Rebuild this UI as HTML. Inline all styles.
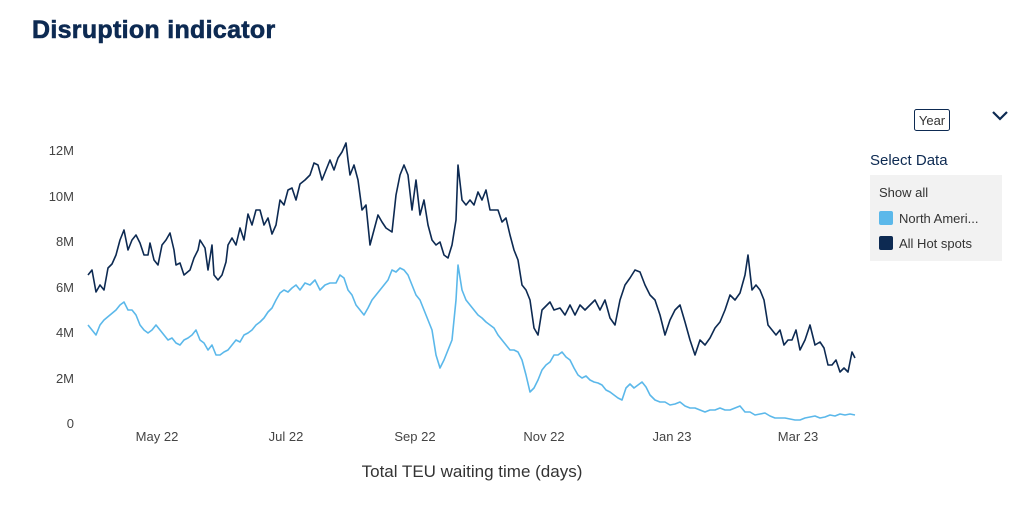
<!DOCTYPE html>
<html><head><meta charset="utf-8"><style>
body{margin:0;background:#fff;width:1017px;height:500px;overflow:hidden;font-family:"Liberation Sans",sans-serif;}
</style></head><body>
<svg width="1017" height="500" xmlns="http://www.w3.org/2000/svg" font-family="Liberation Sans, sans-serif">
<text x="32" y="38" font-size="25" font-weight="bold" fill="#0d2a52" stroke="#0d2a52" stroke-width="0.6" letter-spacing="0.3">Disruption indicator</text>
<g font-size="13" fill="#444" text-anchor="end">
<text x="74" y="155">12M</text><text x="74" y="201">10M</text><text x="74" y="246">8M</text>
<text x="74" y="292">6M</text><text x="74" y="337">4M</text><text x="74" y="383">2M</text><text x="74" y="428">0</text>
</g>
<g font-size="13" fill="#444" text-anchor="middle">
<text x="157" y="441">May 22</text><text x="286" y="441">Jul 22</text><text x="415" y="441">Sep 22</text>
<text x="544" y="441">Nov 22</text><text x="672" y="441">Jan 23</text><text x="798" y="441">Mar 23</text>
</g>
<text x="472" y="477" font-size="17" fill="#333" text-anchor="middle">Total TEU waiting time (days)</text>
<polyline fill="none" stroke="#0d2a52" stroke-width="1.6" stroke-linejoin="round" points="88,275 92,270 96,292 100,285 104,290 108,268 112,264 116,255 120,240 124,230 128,250 132,240 136,235 140,243 144,255 148,255 150,243 154,260 158,265 162,245 166,240 170,233 174,250 176,265 180,263 184,275 190,270 194,258 198,250 200,240 205,248 208,270 212,245 214,275 218,280 222,275 226,262 228,245 232,238 236,245 240,228 244,240 248,214 252,225 256,210 260,210 264,225 268,218 272,234 276,225 280,200 284,205 288,190 292,188 296,200 300,184 305,180 310,175 314,163 318,165 322,180 326,170 330,160 334,170 338,158 342,152 346,143 348,160 350,175 354,165 358,180 362,210 366,205 370,245 374,230 378,215 382,222 386,228 392,232 396,195 400,175 404,165 408,175 412,210 416,180 420,215 424,200 428,225 432,240 436,245 440,242 444,255 448,258 452,245 456,220 458,165 462,200 466,205 470,200 474,205 478,192 482,200 486,190 490,210 494,210 498,210 502,222 506,218 510,235 514,250 518,260 522,285 526,290 530,300 534,328 538,335 542,310 546,306 550,302 554,310 560,308 565,315 570,305 575,315 580,305 585,310 590,305 595,300 600,310 605,300 610,318 615,325 620,300 625,285 630,278 635,270 640,272 645,285 650,295 655,300 660,315 665,335 670,320 675,310 680,305 685,322 690,340 695,355 700,340 705,345 710,338 715,328 720,322 725,310 730,295 735,300 740,293 745,275 748,255 752,290 756,285 760,290 764,300 768,325 772,330 776,335 780,330 784,345 788,340 792,340 796,330 800,350 805,340 810,325 815,345 820,342 824,348 828,365 832,365 836,360 840,372 844,368 848,372 852,352 855,358"/>
<polyline fill="none" stroke="#5bb8ea" stroke-width="1.6" stroke-linejoin="round" points="88,325 92,330 96,335 100,325 104,320 110,315 116,310 120,305 124,302 128,310 132,310 136,315 140,325 144,330 148,333 152,330 156,325 160,330 164,335 168,340 172,338 176,343 180,345 184,340 188,338 192,335 196,330 200,340 204,343 208,350 212,345 216,355 220,355 224,352 228,350 232,345 236,340 240,342 244,335 248,333 252,330 256,325 260,322 264,318 268,312 272,308 276,300 280,293 284,290 288,292 292,288 296,285 300,290 305,283 310,285 315,280 320,290 325,285 330,283 336,283 340,275 344,278 348,290 352,295 356,305 360,310 364,315 368,308 372,300 376,295 380,290 384,285 388,280 392,270 396,272 400,268 404,270 408,275 412,285 416,295 420,300 424,310 428,320 432,330 436,355 440,368 444,360 448,350 452,340 456,300 458,265 462,290 466,300 470,305 474,310 478,315 482,318 486,322 490,325 494,328 498,335 502,340 506,345 510,350 514,350 518,352 522,360 526,375 530,392 534,388 538,380 542,370 546,365 550,362 554,355 558,355 562,352 566,357 570,360 574,368 578,375 582,378 586,376 590,380 594,382 598,383 602,385 606,390 610,392 614,395 618,398 622,400 626,388 630,384 634,388 638,385 642,382 646,387 650,395 655,400 660,402 665,402 670,405 675,404 680,402 685,406 690,408 695,408 700,410 705,412 710,410 715,410 720,408 725,410 730,410 735,408 740,406 745,412 750,412 755,415 760,414 765,413 770,416 775,418 780,418 785,418 790,419 795,420 800,420 805,418 810,417 815,416 820,418 825,417 830,415 835,416 840,414 845,415 850,414 855,415"/>
<rect x="914.5" y="109.5" width="35" height="21" rx="2" fill="#fff" stroke="#0d2a52"/>
<text x="932" y="125" font-size="13" fill="#333" text-anchor="middle">Year</text>
<polyline points="993,112 1000,119 1007,112" fill="none" stroke="#0d2a52" stroke-width="2.2"/>
<text x="870" y="165" font-size="15" fill="#0d2a52">Select Data</text>
<rect x="870" y="175" width="132" height="86" fill="#f2f2f2"/>
<text x="879" y="197" font-size="13" fill="#333">Show all</text>
<rect x="879" y="211" width="14" height="14" rx="2" fill="#5bb8ea"/>
<text x="899" y="223" font-size="13" fill="#333">North Ameri...</text>
<rect x="879" y="236" width="14" height="14" rx="2" fill="#0d2a52"/>
<text x="899" y="248" font-size="13" fill="#333">All Hot spots</text>
</svg>
</body></html>
